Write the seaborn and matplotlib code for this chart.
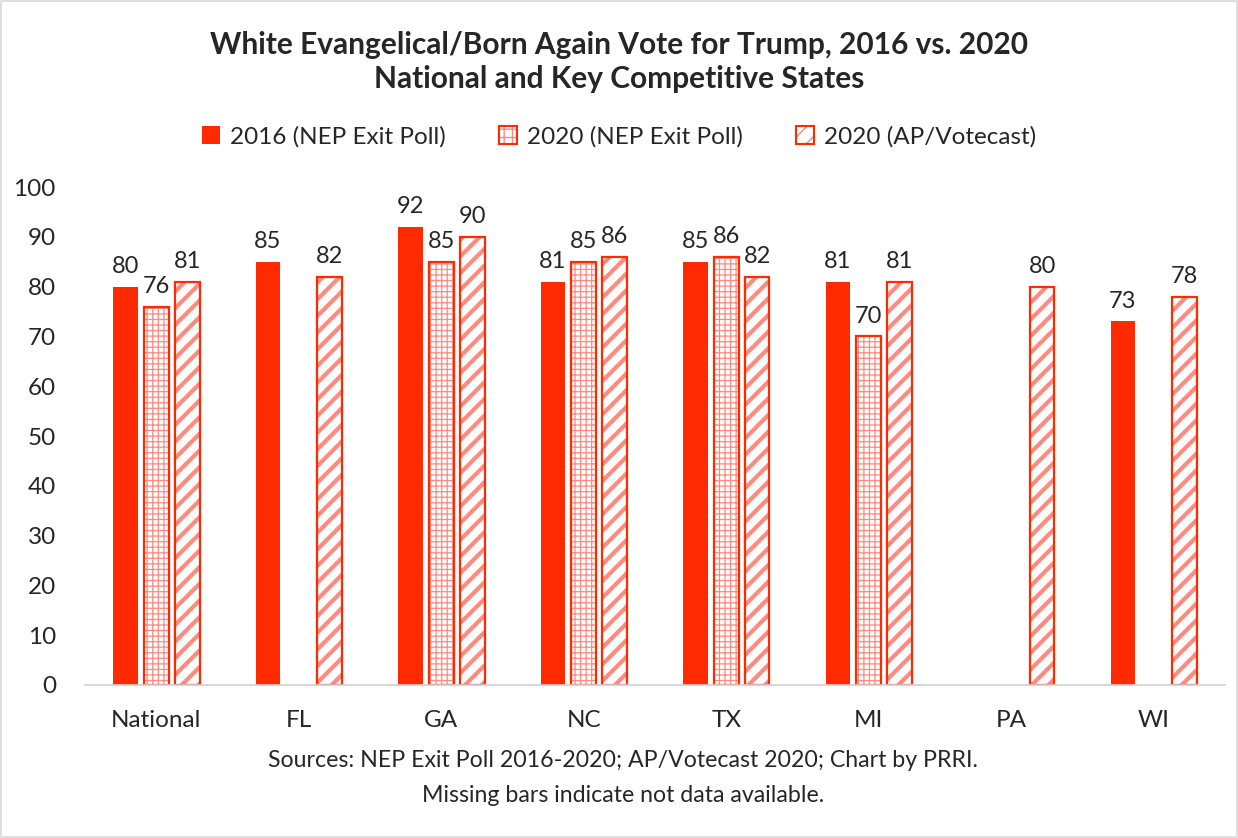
import pandas as pd
import numpy as np
import matplotlib.pyplot as plt
import seaborn as sns
from matplotlib.patches import Patch, Rectangle
from matplotlib.legend_handler import HandlerTuple

# Data (NaN = no data available)
regions = ["National", "FL", "GA", "NC", "TX", "MI", "PA", "WI"]
series = ["2016 (NEP Exit Poll)", "2020 (NEP Exit Poll)", "2020 (AP/Votecast)"]
nep_2016 = [80, 85, 92, 81, 85, 81, np.nan, 73]
nep_2020 = [76, np.nan, 85, 85, 86, 70, np.nan, np.nan]
ap_2020 = [81, 82, 90, 86, 82, 81, 80, 78]

rows = []
for name, vals in zip(series, [nep_2016, nep_2020, ap_2020]):
    for reg, v in zip(regions, vals):
        rows.append({"region": reg, "series": name, "value": v})
df = pd.DataFrame(rows)

red = "#ff2a00"
light = "#ff8a80"
hatches = [None, "+++", "//"]

sns.set_style("white")
plt.rcParams["font.family"] = ["Lato", "DejaVu Sans"]

fig = plt.figure(figsize=(12.38, 8.38), dpi=100)
ax = fig.add_axes([0.0687, 0.1826, 0.9208, 0.5942])

sns.barplot(data=df, x="region", y="value", hue="series", order=regions,
            hue_order=series, palette=[red, "white", "white"], width=0.65,
            gap=0.2, dodge=True, saturation=1, errorbar=None, ax=ax,
            legend=False)

for cont, h in zip(ax.containers, hatches):
    for p in cont:
        if h is None:
            p.set_edgecolor(red)
            p.set_linewidth(0)
        else:
            p.set_hatch(h)
            p.set_edgecolor(light)
            p.set_linewidth(0)
            if hasattr(p, "set_hatch_linewidth"):
                p.set_hatch_linewidth(0.9 if h == "+++" else 3.0)
            ax.add_patch(Rectangle(p.get_xy(), p.get_width(), p.get_height(),
                                   fill=False, edgecolor=red, linewidth=1.6))
    ax.bar_label(cont, fmt="%.0f", padding=7, fontsize=17)

ax.set_ylim(0, 100)
ax.set_yticks(range(0, 101, 10))
ax.set_xlim(-0.5, len(regions) - 0.5)
ax.set_xlabel("")
ax.set_ylabel("")
ax.tick_params(axis="both", length=0, labelsize=17.5)
ax.tick_params(axis="x", pad=18)
ax.tick_params(axis="y", pad=21)
for s in ["top", "right", "left"]:
    ax.spines[s].set_visible(False)
ax.spines["bottom"].set_color("#d0d0d0")
ax.spines["bottom"].set_linewidth(1.2)

# Legend
h1 = Patch(facecolor=red, edgecolor=red, linewidth=0)
h2 = (Patch(facecolor="white", edgecolor=light, hatch="++", linewidth=0),
      Patch(fill=False, edgecolor=red, linewidth=1.5))
h3 = (Patch(facecolor="white", edgecolor=light, hatch="//", linewidth=0),
      Patch(fill=False, edgecolor=red, linewidth=1.5))
fig.legend([h1, h2, h3], series, loc="center", bbox_to_anchor=(0.5, 0.837),
           ncol=3, frameon=False, fontsize=17.5, handlelength=0.75,
           handleheight=0.75, handletextpad=0.4, columnspacing=2.2,
           handler_map={tuple: HandlerTuple(ndivide=1)})

fig.text(0.5, 0.946, "White Evangelical/Born Again Vote for Trump, 2016 vs. 2020",
         ha="center", va="center", fontsize=21.5, fontweight="bold")
fig.text(0.5, 0.906, "National and Key Competitive States",
         ha="center", va="center", fontsize=21.5, fontweight="bold")

fig.text(0.503, 0.093, "Sources: NEP Exit Poll 2016-2020; AP/Votecast 2020; Chart by PRRI.",
         ha="center", va="center", fontsize=16.7)
fig.text(0.503, 0.051, "Missing bars indicate not data available.",
         ha="center", va="center", fontsize=16.7)

fig.patches.append(Rectangle((0.001, 0.001), 0.998, 0.998, transform=fig.transFigure,
                             fill=False, edgecolor="#d9d9d9", linewidth=1.2))

fig.savefig("out.png", dpi=100)
plt.close()
